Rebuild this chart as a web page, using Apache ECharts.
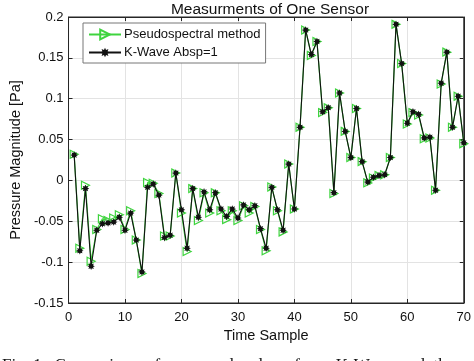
<!DOCTYPE html>
<html><head><meta charset="utf-8">
<script src="https://cdn.jsdelivr.net/npm/echarts@6/dist/echarts.min.js"></script>
<style>html,body{margin:0;padding:0;background:#fff}#c{width:474px;height:361px}</style>
</head><body><div id="c"></div>
<script>
const samples = [];
for (let i = 1; i <= 70; i++) samples.push(i);
const kwave = [0.031,-0.086,-0.010,-0.105,-0.061,-0.053,-0.052,-0.051,-0.045,-0.061,
  -0.040,-0.073,-0.112,-0.0085,-0.0045,-0.018,-0.070,-0.067,0.009,-0.036,
  -0.083,-0.010,-0.045,-0.014,-0.036,-0.015,-0.035,-0.044,-0.035,-0.046,
  -0.030,-0.036,-0.031,-0.059,-0.083,-0.0085,-0.036,-0.061,0.020,-0.035,
  0.065,0.184,0.154,0.170,0.084,0.089,-0.015,0.107,0.060,0.028,
  0.088,0.023,-0.002,0.004,0.006,0.007,0.028,0.191,0.143,0.070,
  0.084,0.081,0.052,0.053,-0.012,0.119,0.157,0.065,0.103,0.046];
const pseudo = [0.032,-0.083,-0.006,-0.099,-0.060,-0.047,-0.049,-0.046,-0.042,-0.060,
  -0.037,-0.073,-0.114,-0.0025,-0.0035,-0.016,-0.068,-0.068,0.009,-0.040,
  -0.087,-0.010,-0.049,-0.015,-0.040,-0.015,-0.037,-0.048,-0.037,-0.049,
  -0.031,-0.040,-0.032,-0.060,-0.086,-0.008,-0.037,-0.063,0.020,-0.035,
  0.065,0.184,0.153,0.170,0.083,0.089,-0.016,0.107,0.060,0.028,
  0.088,0.023,-0.003,0.003,0.006,0.007,0.028,0.191,0.143,0.069,
  0.083,0.080,0.051,0.052,-0.012,0.118,0.157,0.065,0.103,0.045];
const xTicks = [0,10,20,30,40,50,60,70];
const yTicks = [-0.15,-0.1,-0.05,0,0.05,0.1,0.15,0.2];

const star = 'path://M0,-10 L2.2,-5.3 L7.1,-7.1 L5.3,-2.2 L10,0 L5.3,2.2 L7.1,7.1 L2.2,5.3 L0,10 L-2.2,5.3 L-7.1,7.1 L-5.3,2.2 L-10,0 L-5.3,-2.2 L-7.1,-7.1 L-2.2,-5.3 Z';
const tri = 'path://M0,0 L10,5 L0,10 Z';
const green = '#3ed43e';
const font = 'Liberation Sans, Arial, sans-serif';
const fmt = v => String(+(+v).toFixed(2));

const chart = echarts.init(document.getElementById('c'), null, {renderer: 'canvas'});
const axisLine = {show: true, onZero: false, lineStyle: {color: '#262626', width: 1}};
chart.setOption({
  animation: false,
  backgroundColor: '#fff',
  title: {text: 'Measurments of One Sensor', left: 265, textAlign: 'center', top: -3,
    textStyle: {fontFamily: font, fontSize: 15.5, fontWeight: 'normal', color: '#111'}},
  grid: {left: 64, right: 7, top: 17, bottom: 58, show: true, borderColor: '#262626', borderWidth: 1},
  legend: {
    orient: 'vertical', left: 83, top: 23, itemWidth: 32, itemHeight: 12, itemGap: 5,
    padding: [5, 5, 4, 5], borderColor: '#777', borderWidth: 1, backgroundColor: '#fff',
    textStyle: {fontFamily: font, fontSize: 13, color: '#111', padding: [0, 0, 0, -2]},
    data: ['Pseudospectral method', 'K-Wave Absp=1']
  },
  xAxis: [{
    type: 'value', min: 0, max: 70, interval: 10,
    name: 'Time Sample', nameLocation: 'middle', nameGap: 25,
    nameTextStyle: {fontFamily: font, fontSize: 14.5, color: '#111'},
    axisLine: axisLine, axisTick: {inside: true, length: 4, lineStyle: {color: '#262626'}},
    axisLabel: {fontFamily: font, fontSize: 13, color: '#111', margin: 8, formatter: fmt},
    splitLine: {show: true, lineStyle: {color: '#e3e3e3', width: 1}}
  }, {
    type: 'value', min: 0, max: 70, interval: 10, position: 'top',
    axisLine: axisLine, axisTick: {inside: true, length: 4, lineStyle: {color: '#262626'}},
    axisLabel: {show: false}, splitLine: {show: false}
  }],
  yAxis: [{
    type: 'value', min: -0.15, max: 0.2, interval: 0.05,
    name: 'Pressure Magnitude [Pa]', nameLocation: 'middle', nameGap: 41,
    nameTextStyle: {fontFamily: font, fontSize: 14.5, color: '#111'},
    axisLine: axisLine, axisTick: {inside: true, length: 4, lineStyle: {color: '#262626'}},
    axisLabel: {fontFamily: font, fontSize: 13, color: '#111', margin: 5, formatter: fmt},
    splitLine: {show: true, lineStyle: {color: '#e3e3e3', width: 1}}
  }, {
    type: 'value', min: -0.15, max: 0.2, interval: 0.05, position: 'right',
    axisLine: axisLine, axisTick: {inside: true, length: 4, lineStyle: {color: '#262626'}},
    axisLabel: {show: false}, splitLine: {show: false}
  }],
  series: [{
    name: 'Pseudospectral method', type: 'line',
    data: samples.map((x, i) => [x, pseudo[i]]),
    symbol: tri, symbolSize: [8, 8], showAllSymbol: true,
    lineStyle: {color: green, width: 1.2},
    itemStyle: {color: 'rgba(255,255,255,0)', borderColor: green, borderWidth: 1.2},
    z: 2
  }, {
    name: 'K-Wave Absp=1', type: 'line',
    data: samples.map((x, i) => [x, kwave[i]]),
    symbol: star, symbolSize: 7.5, showAllSymbol: true,
    lineStyle: {color: '#111', width: 1.1},
    itemStyle: {color: '#111', borderWidth: 0},
    z: 3
  }],
  graphic: [{
    type: 'text', left: 2, top: 357,
    style: {text: 'Fig. 1.  Comparison  of  measured  values  from  K-Wave  and  the', font: '17px Liberation Serif, serif', fill: '#111'}
  }]
});
</script></body></html>
